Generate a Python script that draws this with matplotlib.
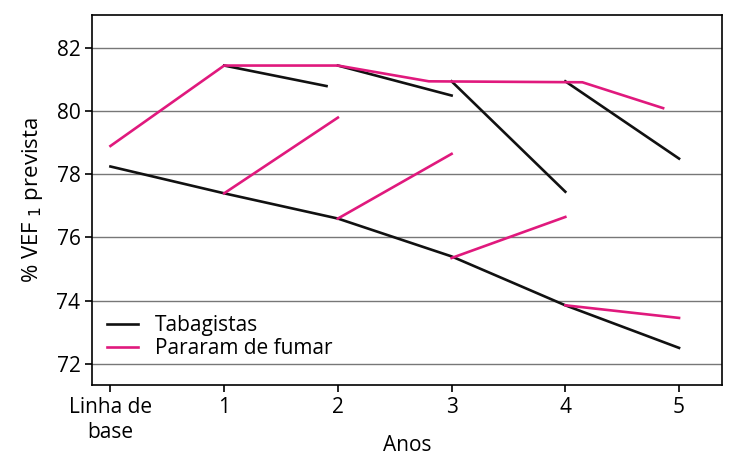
import matplotlib
matplotlib.use("Agg")
import matplotlib.pyplot as plt

plt.rcParams['font.family'] = ['Open Sans', 'DejaVu Sans']

# Smokers main trajectory
smk_x = [0, 1, 2, 3, 4, 5]
smk_y = [78.25, 77.4, 76.6, 75.4, 73.85, 72.5]
# Smokers projected segments from the quitters' top line
smk_seg = [([1, 1.9], [81.45, 80.8]), ([2, 3], [81.45, 80.5]),
           ([3, 4], [80.95, 77.45]), ([4, 5], [80.95, 78.5])]
# Quitters top line
q_x = [0, 1, 2, 2.8, 4.15, 4.86]
q_y = [78.9, 81.45, 81.45, 80.95, 80.92, 80.1]
# Quitters segments from smokers' line
q_seg = [([1, 2], [77.4, 79.8]), ([2, 3], [76.6, 78.65]),
         ([3, 4], [75.35, 76.65]), ([4, 5], [73.85, 73.45])]

xticks = [0, 1, 2, 3, 4, 5]
xlabels = ['Linha de\nbase', '1', '2', '3', '4', '5']
yticks = [72, 74, 76, 78, 80, 82]

black = '#111111'
pink = '#e0197d'

fig = plt.figure(figsize=(7.5, 4.71), dpi=100)
ax = fig.add_axes([0.123, 0.183, 0.84, 0.785])
for y in yticks:
    ax.axhline(y, color='#777777', lw=1.0, zorder=0)
ax.plot(smk_x, smk_y, color=black, lw=1.9, label='Tabagistas')
for xs, ys in smk_seg:
    ax.plot(xs, ys, color=black, lw=1.9)
ax.plot(q_x, q_y, color=pink, lw=1.9, label='Pararam de fumar')
for xs, ys in q_seg:
    ax.plot(xs, ys, color=pink, lw=1.9)

ax.set_xlim(-0.16, 5.38)
ax.set_ylim(71.33, 83.05)
ax.set_xticks(xticks)
ax.set_xticklabels(xlabels, fontsize=15, linespacing=1.3)
ax.set_yticks(yticks)
ax.set_yticklabels([str(v) for v in yticks], fontsize=15)
ax.tick_params(length=5, width=1.2)
for s in ax.spines.values():
    s.set_linewidth(1.2)
ax.set_xlabel('Anos', fontsize=15, labelpad=-6)
ax.set_ylabel('% VEF$_{\\ 1}$ prevista', fontsize=16, labelpad=8)
ax.legend(loc='lower left', frameon=False, fontsize=15, handlelength=1.5,
          bbox_to_anchor=(0.0, 0.03), labelspacing=0.1, borderaxespad=0.3)
fig.savefig('out.png', dpi=100)
